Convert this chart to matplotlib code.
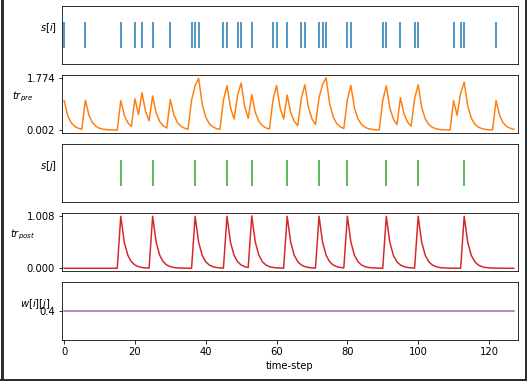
import matplotlib
matplotlib.use("Agg")
import matplotlib.pyplot as plt
from matplotlib.lines import Line2D

# ---------------- data ----------------
time_steps = list(range(128))

pre_spike_times = [0, 6, 16, 20, 22, 25, 30, 36, 37, 38, 45, 46, 49, 50, 53,
                   59, 60, 63, 67, 68, 72, 73, 74, 80, 81, 90, 91, 95, 99,
                   100, 110, 112, 113, 122]

post_spike_times = [16, 25, 37, 46, 53, 63, 72, 80, 91, 100, 113]

tr_pre = [
    1.000, 0.500, 0.250, 0.125, 0.063, 0.031, 1.016, 0.508,
    0.254, 0.127, 0.063, 0.032, 0.016, 0.008, 0.004, 0.002,
    1.001, 0.500, 0.250, 0.125, 1.063, 0.531, 1.266, 0.633,
    0.316, 1.158, 0.579, 0.290, 0.145, 0.072, 1.036, 0.518,
    0.259, 0.130, 0.065, 0.032, 1.016, 1.508, 1.754, 0.877,
    0.439, 0.219, 0.110, 0.055, 0.027, 1.014, 1.507, 0.753,
    0.377, 1.188, 1.594, 0.797, 0.399, 1.199, 0.600, 0.300,
    0.150, 0.075, 0.037, 1.019, 1.509, 0.755, 0.377, 1.189,
    0.594, 0.297, 0.149, 1.074, 1.537, 0.769, 0.384, 0.192,
    1.096, 1.548, 1.774, 0.887, 0.444, 0.222, 0.111, 0.055,
    1.028, 1.514, 0.757, 0.378, 0.189, 0.095, 0.047, 0.024,
    0.012, 0.006, 1.003, 1.501, 0.751, 0.375, 0.188, 1.094,
    0.547, 0.273, 0.137, 1.068, 1.534, 0.767, 0.384, 0.192,
    0.096, 0.048, 0.024, 0.012, 0.006, 0.003, 1.001, 0.501,
    1.250, 1.625, 0.813, 0.406, 0.203, 0.102, 0.051, 0.025,
    0.013, 0.006, 1.003, 0.502, 0.251, 0.125, 0.063, 0.031,
]

tr_post = [
    0.0000, 0.0000, 0.0000, 0.0000, 0.0000, 0.0000, 0.0000, 0.0000,
    0.0000, 0.0000, 0.0000, 0.0000, 0.0000, 0.0000, 0.0000, 0.0000,
    1.0000, 0.5000, 0.2500, 0.1250, 0.0625, 0.0313, 0.0156, 0.0078,
    0.0039, 1.0020, 0.5010, 0.2505, 0.1252, 0.0626, 0.0313, 0.0157,
    0.0078, 0.0039, 0.0020, 0.0010, 0.0005, 1.0002, 0.5001, 0.2500,
    0.1250, 0.0625, 0.0313, 0.0156, 0.0078, 0.0039, 1.0020, 0.5010,
    0.2505, 0.1252, 0.0626, 0.0313, 0.0157, 1.0078, 0.5039, 0.2520,
    0.1260, 0.0630, 0.0315, 0.0157, 0.0079, 0.0039, 0.0020, 1.0010,
    0.5005, 0.2502, 0.1251, 0.0626, 0.0313, 0.0156, 0.0078, 0.0039,
    1.0020, 0.5010, 0.2505, 0.1252, 0.0626, 0.0313, 0.0157, 0.0078,
    1.0039, 0.5020, 0.2510, 0.1255, 0.0627, 0.0314, 0.0157, 0.0078,
    0.0039, 0.0020, 0.0010, 1.0005, 0.5002, 0.2501, 0.1251, 0.0625,
    0.0313, 0.0156, 0.0078, 0.0039, 1.0020, 0.5010, 0.2505, 0.1252,
    0.0626, 0.0313, 0.0157, 0.0078, 0.0039, 0.0020, 0.0010, 0.0005,
    0.0002, 1.0001, 0.5001, 0.2500, 0.1250, 0.0625, 0.0313, 0.0156,
    0.0078, 0.0039, 0.0020, 0.0010, 0.0005, 0.0002, 0.0001, 0.0001,
]

weight = [
    0.4, 0.4, 0.4, 0.4, 0.4, 0.4, 0.4, 0.4, 0.4, 0.4, 0.4, 0.4, 0.4, 0.4, 0.4, 0.4,
    0.4, 0.4, 0.4, 0.4, 0.4, 0.4, 0.4, 0.4, 0.4, 0.4, 0.4, 0.4, 0.4, 0.4, 0.4, 0.4,
    0.4, 0.4, 0.4, 0.4, 0.4, 0.4, 0.4, 0.4, 0.4, 0.4, 0.4, 0.4, 0.4, 0.4, 0.4, 0.4,
    0.4, 0.4, 0.4, 0.4, 0.4, 0.4, 0.4, 0.4, 0.4, 0.4, 0.4, 0.4, 0.4, 0.4, 0.4, 0.4,
    0.4, 0.4, 0.4, 0.4, 0.4, 0.4, 0.4, 0.4, 0.4, 0.4, 0.4, 0.4, 0.4, 0.4, 0.4, 0.4,
    0.4, 0.4, 0.4, 0.4, 0.4, 0.4, 0.4, 0.4, 0.4, 0.4, 0.4, 0.4, 0.4, 0.4, 0.4, 0.4,
    0.4, 0.4, 0.4, 0.4, 0.4, 0.4, 0.4, 0.4, 0.4, 0.4, 0.4, 0.4, 0.4, 0.4, 0.4, 0.4,
    0.4, 0.4, 0.4, 0.4, 0.4, 0.4, 0.4, 0.4, 0.4, 0.4, 0.4, 0.4, 0.4, 0.4, 0.4, 0.4,
]

tr_pre_ticks = [0.002, 1.774]
tr_post_ticks = [0.000, 1.008]
weight_ticks = [0.4]
x_ticks = [0, 20, 40, 60, 80, 100, 120]

row_labels = [r"$s[i]$", r"$tr_{pre}$", r"$s[j]$", r"$tr_{post}$", r"$w[i][j]$"]
x_label = "time-step"

# ---------------- figure ----------------
W, H = 527, 381
fig = plt.figure(figsize=(W / 72, H / 72), dpi=72)
axes = fig.subplots(5, 1)
fig.subplots_adjust(left=62 / W, right=518 / W, top=1 - 6 / H,
                    bottom=1 - 340 / H, hspace=0.2)

ax1, ax2, ax3, ax4, ax5 = axes

ax1.eventplot(pre_spike_times, colors="C0", lineoffsets=1, linelengths=1)
ax1.set_ylim(-0.1, 2.1)
ax1.set_yticks([])

ax2.plot(time_steps, tr_pre, color="C1")
ax2.set_yticks(tr_pre_ticks)
ax2.set_yticklabels([f"{v:.3f}" for v in tr_pre_ticks])

ax3.eventplot(post_spike_times, colors="C2", lineoffsets=1, linelengths=1)
ax3.set_ylim(-0.1, 2.1)
ax3.set_yticks([])

ax4.plot(time_steps, tr_post, color="C3")
ax4.set_yticks(tr_post_ticks)
ax4.set_yticklabels([f"{v:.3f}" for v in tr_post_ticks])

ax5.plot(time_steps, weight, color="C4")
ax5.set_yticks(weight_ticks)
ax5.set_yticklabels([f"{v}" for v in weight_ticks])

for ax, lab in zip(axes, row_labels):
    ax.set_xlim(-0.6, 128.2)
    ax.set_ylabel(lab, rotation=0)

for ax in (ax1, ax3):
    ax.yaxis.set_label_coords(-0.03, 0.5)

for ax in axes[:-1]:
    ax.set_xticks([])

ax5.set_xticks(x_ticks)
ax5.set_xlabel(x_label)

# dark frame of the screenshot (left, right, bottom)
frame_col = "#2b2e33"
for xs, ys in (([1.5 / W, 1.5 / W], [0, 1]),
               ([1 - 1.5 / W, 1 - 1.5 / W], [0, 1]),
               ([0, 1], [1.5 / H, 1.5 / H])):
    fig.add_artist(Line2D(xs, ys, transform=fig.transFigure,
                          color=frame_col, linewidth=3 * 72 / 72))

fig.savefig("out.png", dpi=72)
